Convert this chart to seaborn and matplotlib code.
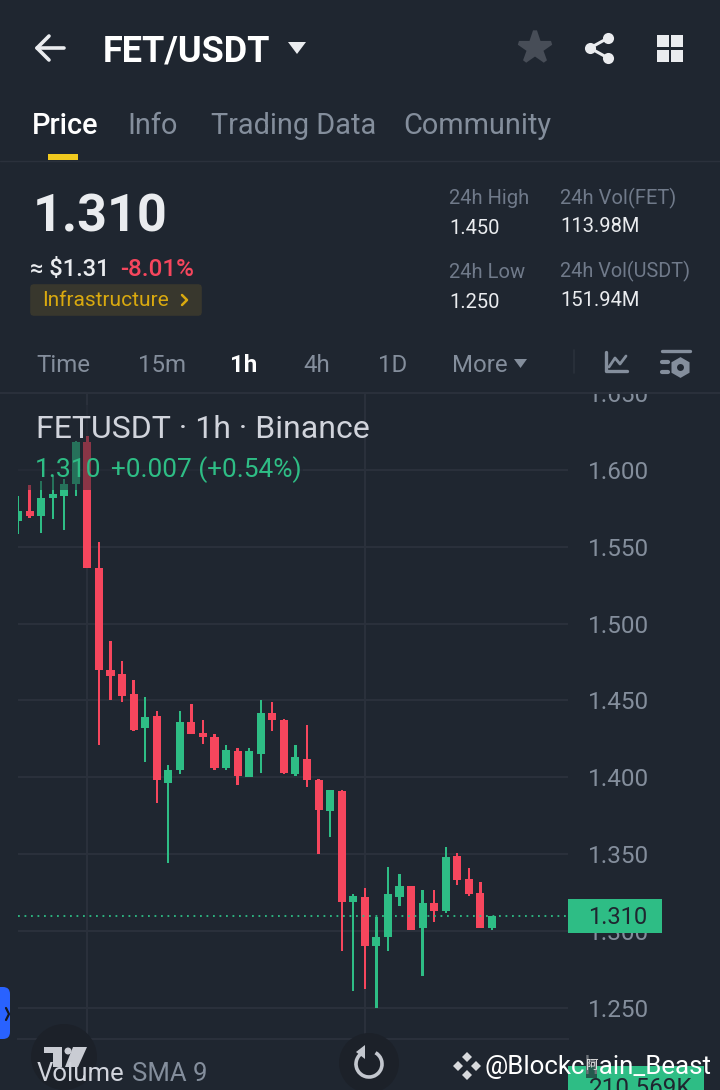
import pandas as pd
import matplotlib.pyplot as plt
import matplotlib.ticker as mtick
import matplotlib.patches as mpatch
import seaborn as sns

# Hourly candles
opens = [1.567, 1.573, 1.570, 1.582, 1.583, 1.591, 1.618, 1.536, 1.470, 1.467, 1.454, 1.432, 1.440, 1.396,
         1.405, 1.436, 1.429, 1.426, 1.406, 1.417, 1.400, 1.415, 1.442, 1.437, 1.402, 1.412, 1.398, 1.378,
         1.391, 1.319, 1.322, 1.290, 1.296, 1.322, 1.329, 1.302, 1.318, 1.313, 1.349, 1.334, 1.325, 1.302]
closes = [1.573, 1.570, 1.582, 1.584, 1.591, 1.618, 1.536, 1.470, 1.466, 1.453, 1.431, 1.439, 1.398, 1.405,
          1.436, 1.428, 1.426, 1.406, 1.418, 1.401, 1.417, 1.442, 1.437, 1.403, 1.413, 1.398, 1.379, 1.392,
          1.319, 1.323, 1.290, 1.296, 1.324, 1.329, 1.301, 1.318, 1.313, 1.348, 1.333, 1.324, 1.302, 1.310]
highs = [1.583, 1.590, 1.593, 1.596, 1.594, 1.619, 1.622, 1.553, 1.489, 1.476, 1.463, 1.452, 1.443, 1.408,
         1.443, 1.448, 1.437, 1.428, 1.421, 1.419, 1.419, 1.450, 1.449, 1.438, 1.421, 1.434, 1.399, 1.392,
         1.392, 1.324, 1.328, 1.309, 1.342, 1.337, 1.329, 1.327, 1.327, 1.355, 1.351, 1.341, 1.332, 1.310]
lows = [1.558, 1.569, 1.559, 1.568, 1.561, 1.583, 1.536, 1.421, 1.450, 1.449, 1.430, 1.410, 1.383, 1.344,
        1.402, 1.428, 1.422, 1.405, 1.405, 1.395, 1.400, 1.403, 1.430, 1.402, 1.401, 1.394, 1.350, 1.361,
        1.287, 1.261, 1.262, 1.250, 1.287, 1.316, 1.301, 1.271, 1.306, 1.312, 1.330, 1.323, 1.302, 1.301]
price_ticks = [1.25, 1.30, 1.35, 1.40, 1.45, 1.50, 1.55, 1.60, 1.65]
last_price = 1.310
volume_label = "210.569K"

tabs = ["Price", "Info", "Trading Data", "Community"]
intervals = ["Time", "15m", "1h", "4h", "1D", "More"]

BG = "#1f2630"
GRID = "#2b313c"
GREEN = "#2ebd85"
RED = "#f6465d"
GREY = "#848e9c"
LIGHT = "#eaecef"
DIM = "#707a8a"
CIRCLE = "#1c2129"

sns.set_theme(style="dark", rc={"figure.facecolor": BG, "axes.facecolor": BG})
plt.rcParams["font.family"] = ["Roboto", "Noto Sans CJK SC", "DejaVu Sans"]

candles = pd.DataFrame({"candle": range(len(opens)), "open": opens, "close": closes, "high": highs, "low": lows})
candles["top"] = candles[["open", "close"]].max(axis=1)
candles["bottom"] = candles[["open", "close"]].min(axis=1)
candles["body"] = candles["top"] - candles["bottom"]
candles["wick"] = candles["high"] - candles["low"]
candles["up"] = candles["close"] >= candles["open"]

fig = plt.figure(figsize=(7.2, 10.9), dpi=100)

################
# Candle chart #
################

ax = fig.add_axes([18 / 720, (1090 - 1039) / 1090, 550 / 720, 646 / 1090])

for is_up, color in [(True, GREEN), (False, RED)]:
    part = candles[candles["up"] == is_up].reset_index(drop=True)
    sns.barplot(data=part, x="candle", y="wick", bottom=part["low"], native_scale=True, color=color,
                width=0.20, saturation=1, linewidth=0, ax=ax, zorder=3)
    sns.barplot(data=part, x="candle", y="body", bottom=part["bottom"], native_scale=True, color=color,
                width=0.70, saturation=1, linewidth=0, ax=ax, zorder=3)

ax.axhline(last_price, color=GREEN, lw=1.3, ls=(0, (1, 2.6)), zorder=4)

ax.set_xlim(0, 550 / 11.56)
ax.set_ylim(1.2298, 1.65)
ax.set_xlabel(None)
ax.set_ylabel(None)
ax.set_xticks([6, 30])
ax.set_yticks(price_ticks)
ax.yaxis.tick_right()
ax.yaxis.set_major_formatter(mtick.StrMethodFormatter("{x:.3f}"))
ax.tick_params(axis="x", labelbottom=False, length=0)
ax.tick_params(axis="y", labelsize=17.5, labelcolor=GREY, length=0, pad=14.5)
ax.grid(True, color=GRID, lw=1.4)
ax.set_axisbelow(True)
for side in ["left", "right"]:
    ax.spines[side].set_visible(False)
for side in ["top", "bottom"]:
    ax.spines[side].set_color(GRID)
    ax.spines[side].set_linewidth(1.4)

##################
# Screen overlay #
##################

# pixel coordinates for everything around the chart
ui = fig.add_axes([0, 0, 1, 1], zorder=5)
ui.set_xlim(0, 720)
ui.set_ylim(1090, 0)
ui.axis("off")
ui.patch.set_alpha(0)


def label(x, y, s, color=LIGHT, size=15, weight="normal", ha="left", zorder=10):
    # text sits about 2px high with va=center
    ui.text(x, y + 2, s, color=color, fontsize=size, fontweight=weight, ha=ha, va="center", zorder=zorder)


# hides the part of the price axis scrolled under the header
ui.add_patch(mpatch.Rectangle((0, 0), 720, 392, color=BG, lw=0, zorder=1))
ui.plot([0, 720], [393, 393], color=GRID, lw=1.4, zorder=2)

# header
ui.plot([37, 64], [48, 48], color=LIGHT, lw=2.6, zorder=3)
ui.plot([49, 37, 49], [36, 48, 60], color=LIGHT, lw=2.6, zorder=3)
label(103, 49, "FET/USDT", "white", 26, "bold")
ui.add_patch(mpatch.Polygon([(288, 42), (306, 42), (297, 54)], color=LIGHT, lw=0, zorder=3))
ui.plot([535], [48], marker="*", ms=24, color="#474d57", mec="#474d57", mew=3, zorder=3)
ui.plot([608, 590, 608], [38, 48, 58], color=LIGHT, lw=2.2, zorder=3)
ui.plot([608, 590, 608], [38, 48, 58], "o", color=LIGHT, ms=8, mew=0, zorder=3)
for x0 in [657, 671]:
    for y0 in [35, 50]:
        ui.add_patch(mpatch.Rectangle((x0, y0), 12, 12, color=LIGHT, lw=0, zorder=3))

# tabs
for x, tab in zip([32, 127, 211, 403], tabs):
    label(x, 124, tab, "white" if tab == "Price" else GREY, 20.8, "medium" if tab == "Price" else "normal")
ui.add_patch(mpatch.Rectangle((48, 154), 30, 6, color="#f0c91e", lw=0, zorder=3))
ui.plot([0, 720], [160.5, 160.5], color=GRID, lw=1, zorder=2)

# price summary
label(33, 215, "1.310", LIGHT, 37.5, "bold")
label(30, 268, "≈ $1.31", LIGHT, 17, "medium")
label(120, 268, "-8.01%", RED, 17.5, "medium")
ui.add_patch(mpatch.FancyBboxPatch((34, 288), 164, 24, boxstyle="round,pad=0,rounding_size=0.1",
                                   mutation_scale=1, lw=5.5, ec="#38372d", fc="#38372d", zorder=3))
label(42, 299, "Infrastructure", "#d9a90f", 15)
ui.plot([182, 187, 182], [295, 300, 305], color="#d9a90f", lw=1.8, zorder=4)

label(449, 197, "24h High", DIM, 14.5)
label(449, 226, "1.450", LIGHT, 14.5)
label(449, 271, "24h Low", DIM, 14.5)
label(449, 300, "1.250", LIGHT, 14.5)
label(560, 196, "24h Vol(FET)", DIM, 14.5)
label(560, 225, "113.98M", LIGHT, 14.5)
label(560, 269, "24h Vol(USDT)", DIM, 14.3)
label(560, 298, "151.94M", LIGHT, 14.5)

# interval row
for x, name in zip([36, 138, 230, 303, 378, 452], intervals):
    label(x, 364, name, "white" if name == "1h" else GREY, 17.3, "bold" if name == "1h" else "normal")
ui.add_patch(mpatch.Polygon([(514, 359), (527, 359), (520.5, 368)], color=GREY, lw=0, zorder=3))
ui.plot([574, 574], [350, 373], color=GRID, lw=1.2, zorder=3)
ui.plot([606, 606, 627], [352, 371, 371], color=GREY, lw=2.4, zorder=3)
ui.plot([609, 615, 620, 626], [367, 358, 364, 356], color=GREY, lw=2, zorder=3)
ui.plot([662, 690], [351, 351], color=GREY, lw=2.4, zorder=3)
ui.plot([662, 668], [362, 362], color=GREY, lw=3, zorder=3)
ui.plot([662, 668], [372, 372], color=GREY, lw=3, zorder=3)
ui.plot([680], [367], marker="h", ms=15, color=GREY, mew=0, zorder=3)
ui.plot([680], [367], "o", ms=5, color=BG, mew=0, zorder=4)

# chart legend, its translucent panel dims the candles behind it
ui.add_patch(mpatch.Rectangle((18, 405), 285, 85, color=BG, alpha=0.5, lw=0, zorder=2))
label(36, 427, "FETUSDT · 1h · Binance", "#d1d4dc", 23)
label(35, 468, "1.310", GREEN, 19)
label(111, 468, "+0.007 (+0.54%)", GREEN, 18.9)

# last price tag
ui.add_patch(mpatch.Rectangle((568, 899), 94, 34, color=GREEN, lw=0, zorder=3))
label(618, 916, "1.310", BG, 17, ha="center")

# bottom strip
ui.add_patch(mpatch.FancyBboxPatch((-8, 987), 18, 52, boxstyle="round,pad=0,rounding_size=7",
                                   color="#2962ff", lw=0, zorder=3))
ui.plot([6, 9, 6], [1008, 1014, 1020], color="#131722", lw=1.6, zorder=4)
ui.add_patch(mpatch.Circle((64, 1057), 33, color=CIRCLE, lw=0, zorder=3))
ui.add_patch(mpatch.Polygon([(44, 1047), (62, 1047), (62, 1067), (53, 1067), (53, 1053), (44, 1053)],
                            color="#c9ccd3", lw=0, zorder=4))
ui.add_patch(mpatch.Circle((68, 1051), 3.5, color="#c9ccd3", lw=0, zorder=4))
ui.add_patch(mpatch.Polygon([(73, 1047), (87, 1047), (78, 1067), (65, 1067)], color="#c9ccd3", lw=0, zorder=4))
label(37, 1072, "Volume", "#d1d4dc", 18.5)
label(132, 1072, "SMA 9", GREY, 18.5)

ui.add_patch(mpatch.Circle((369, 1063), 30, color=CIRCLE, lw=0, zorder=3))
ui.add_patch(mpatch.Arc((369, 1064), 26, 26, theta1=-60, theta2=245, color="#c3c7ce", lw=2.6, zorder=4))
ui.add_patch(mpatch.Polygon([(365, 1045), (365, 1059), (356, 1052)], color="#c3c7ce", lw=0, zorder=4))

ui.add_patch(mpatch.Rectangle((568, 1066), 136, 24, color=GREEN, lw=0, zorder=3))
ui.text(589, 1077, volume_label, color=BG, fontsize=17.5, va="top", zorder=4)

# watermark with the stray stamp over the h
for dx, dy in [(0, -9), (-9, 0), (9, 0), (0, 9)]:
    ui.plot([467 + dx], [1066 + dy], marker="D", ms=5.5, color="#d8dadd", mew=0, zorder=5)
label(485, 1065, "@Blockchain_Beast", "white", 18.6, zorder=6)
ui.add_patch(mpatch.Rectangle((586, 1054), 11, 24, color=BG, alpha=0.65, lw=0, zorder=7))
label(586, 1064, "阿", "#e8e8e8", 9, zorder=8)

fig.savefig("out.png", dpi=100, facecolor=BG)
